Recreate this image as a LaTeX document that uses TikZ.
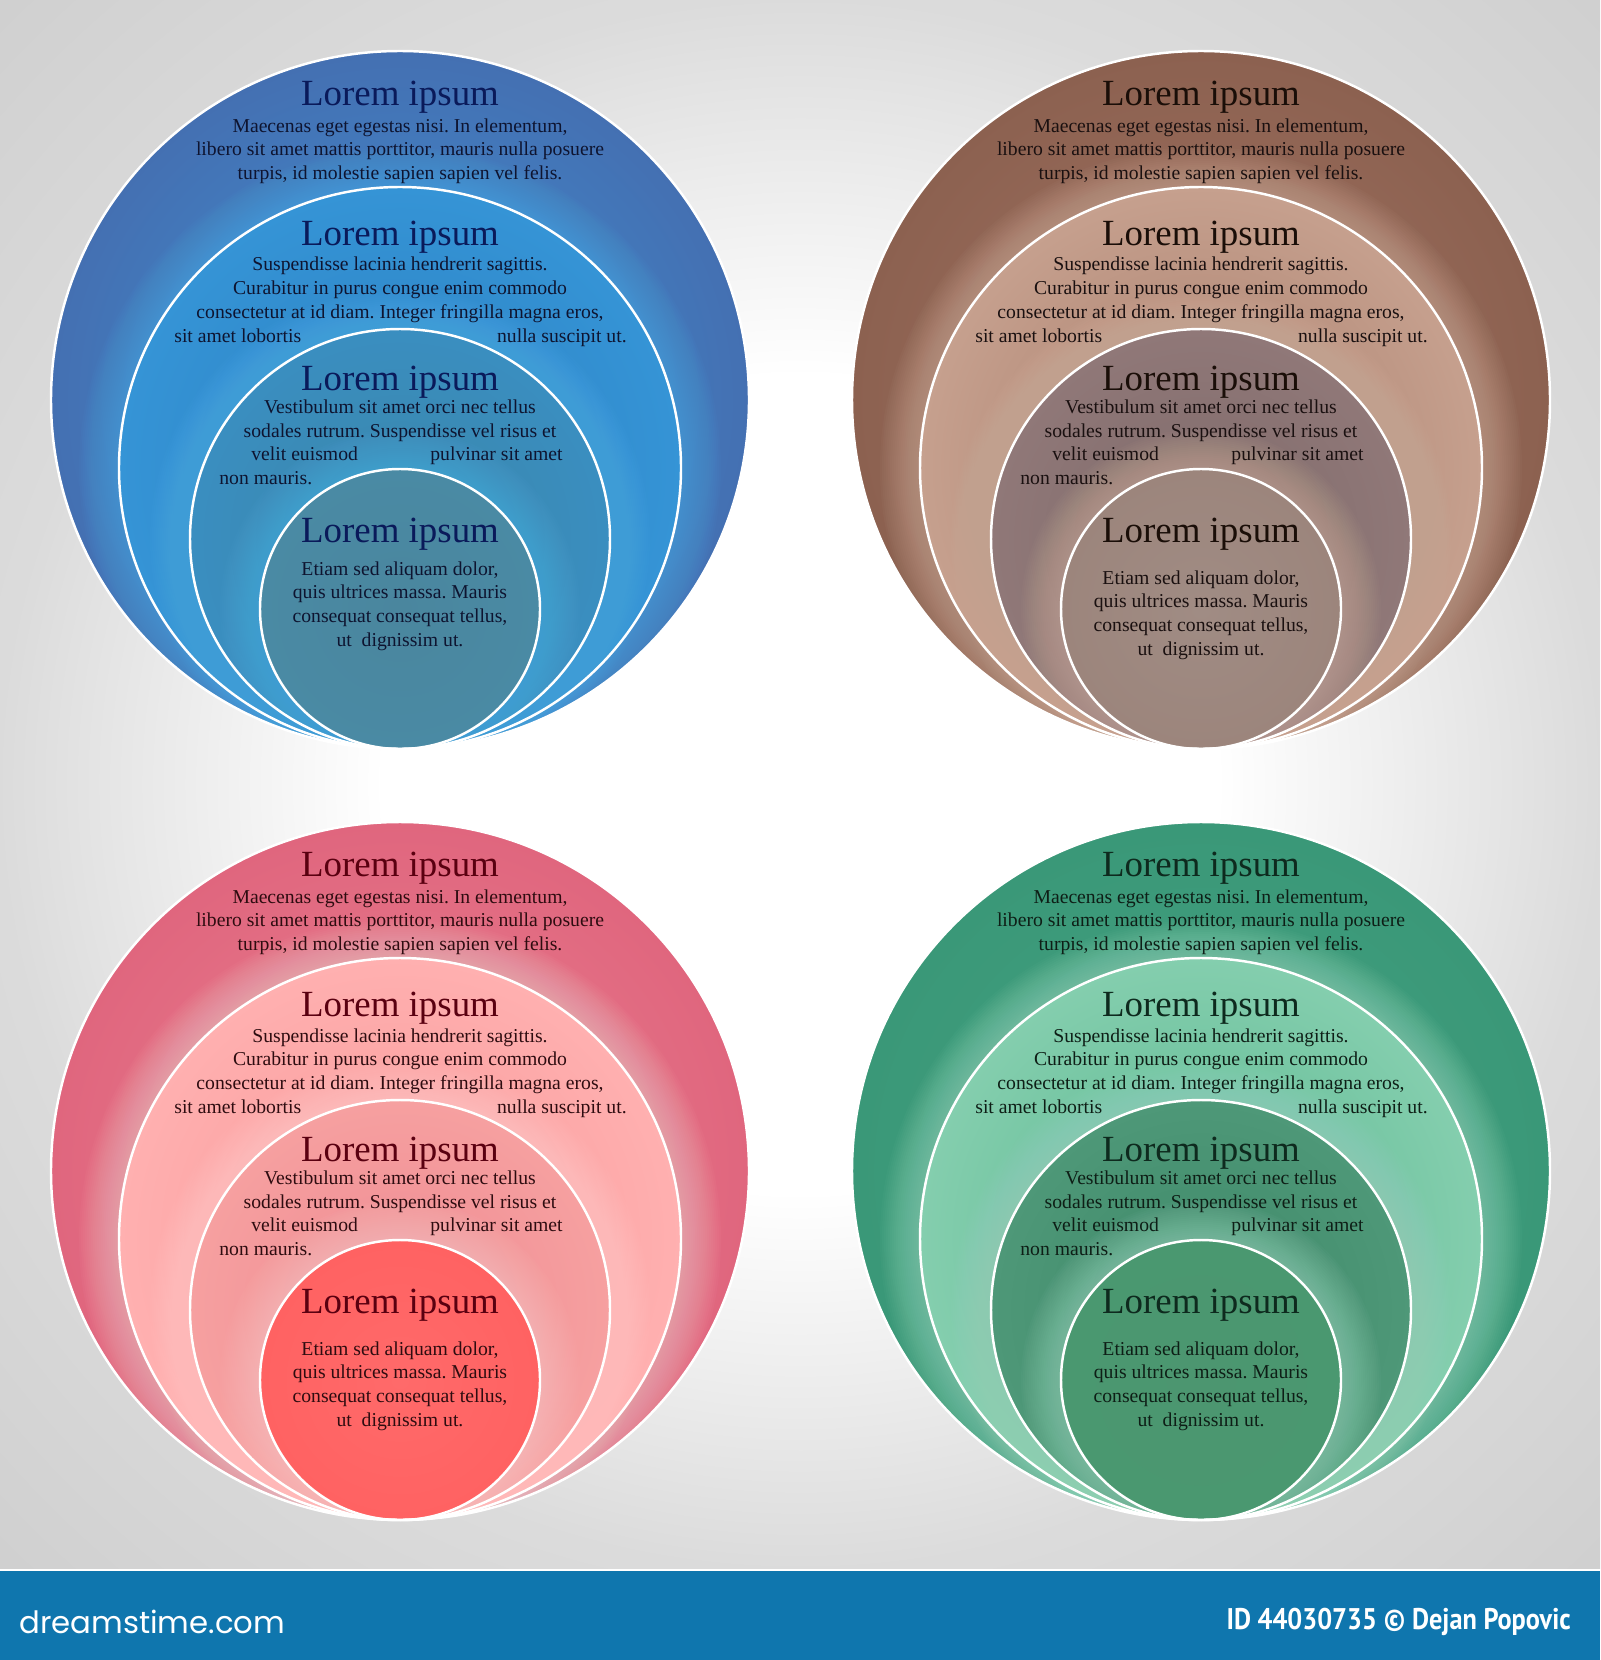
\documentclass[tikz,border=0pt]{standalone}
\usepackage{fontspec}
\setmainfont{Liberation Serif}
\newfontfamily\barfont{PT Sans}
\newfontfamily\logofont{Poppins}
\usepackage{tikz}
\usepackage{xcolor}
\usetikzlibrary{positioning}
\frenchspacing
\definecolor{barblue}{HTML}{0F76AE}
% blue set
\definecolor{blueAin}{HTML}{3F8FD2}
\definecolor{blueAout}{HTML}{4470B2}
\definecolor{blueBin}{HTML}{2C80C0}
\definecolor{blueBout}{HTML}{3594D6}
\definecolor{blueCin}{HTML}{3A86A8}
\definecolor{blueCout}{HTML}{3A8EC0}
\definecolor{blueDin}{HTML}{4A869E}
\definecolor{blueDout}{HTML}{4A8AA4}
\definecolor{blueglow}{HTML}{5AB8F2}
\definecolor{bluehead}{HTML}{0A1A5A}
\definecolor{bluetext}{HTML}{0E1430}
% brown set
\definecolor{brownAin}{HTML}{A07262}
\definecolor{brownAout}{HTML}{8C6150}
\definecolor{brownBin}{HTML}{A87E6C}
\definecolor{brownBout}{HTML}{C6A08E}
\definecolor{brownCin}{HTML}{7E6A6A}
\definecolor{brownCout}{HTML}{907878}
\definecolor{brownDin}{HTML}{A08C84}
\definecolor{brownDout}{HTML}{9C857C}
\definecolor{brownglow}{HTML}{DDBCAA}
\definecolor{brownhead}{HTML}{1A0E08}
\definecolor{browntext}{HTML}{1A1010}
% red set
\definecolor{redAin}{HTML}{E88090}
\definecolor{redAout}{HTML}{E0667E}
\definecolor{redBin}{HTML}{F89898}
\definecolor{redBout}{HTML}{FFB0B0}
\definecolor{redCin}{HTML}{EE8A92}
\definecolor{redCout}{HTML}{F6A0A0}
\definecolor{redDin}{HTML}{FF6A6A}
\definecolor{redDout}{HTML}{FF6262}
\definecolor{redglow}{HTML}{FFD4D4}
\definecolor{redhead}{HTML}{5A0010}
\definecolor{redtext}{HTML}{2E0C10}
% green set
\definecolor{greenAin}{HTML}{45A080}
\definecolor{greenAout}{HTML}{3A9878}
\definecolor{greenBin}{HTML}{5CB890}
\definecolor{greenBout}{HTML}{84CEAE}
\definecolor{greenCin}{HTML}{3E8868}
\definecolor{greenCout}{HTML}{4E9878}
\definecolor{greenDin}{HTML}{4C9670}
\definecolor{greenDout}{HTML}{4A9870}
\definecolor{greenglow}{HTML}{A8E4CC}
\definecolor{greenhead}{HTML}{0E2A1E}
\definecolor{greentext}{HTML}{0E1E16}

\pgfdeclareradialshading{paper}{\pgfpoint{0bp}{0bp}}{color(0bp)=(white); color(13bp)=(white);
  color(25bp)=(gray!28); color(50bp)=(gray!50)}

\tikzset{
  ring/.style={white, line width=1.4pt},
  title/.style={font=\fontsize{21}{24}\selectfont, inner sep=0pt},
  body/.style={font=\fontsize{11.2}{13.5}\selectfont, align=center, inner sep=0pt},
  side/.style={body, text height=1.55ex, text depth=0.3ex}
}

% #1,#2 centre of the big disc, #3 colour set, #4 name prefix, #5 offset of last text
\newcommand{\ringset}[5]{
  \begin{scope}
    \clip (#1,#2) circle (349);
    \foreach \r/\l in {349/A,281/B,210/C,140/D} {
      \ifnum\r<349
        \foreach \k in {1,...,20}
          \fill[#3glow, opacity=0.035] (#1,#2+349-\r) circle (\r+2*\k);
      \fi
      \shade[inner color=#3\l in, outer color=#3\l out] (#1,#2+349-\r) circle (\r);
    }
  \end{scope}
  \foreach \r in {349,281,210,140}
    \draw[ring] (#1,#2+349-\r) circle (\r);
  \node[title, text=#3head] (#4t1) at (#1,#2-303) {Lorem ipsum};
  \node[body, text=#3text] (#4b1) at (#1,#2-249) {Maecenas eget egestas nisi. In elementum,\\
    libero sit amet mattis porttitor, mauris nulla posuere\\ turpis, id molestie sapien sapien vel felis.};
  \node[title, text=#3head] (#4t2) at (#1,#2-163) {Lorem ipsum};
  \node[body, text=#3text] (#4b2) at (#1,#2-110) {Suspendisse lacinia hendrerit sagittis.\\
    Curabitur in purus congue enim commodo\\ consectetur at id diam. Integer fringilla magna eros,};
  \node[side, text=#3text, anchor=west] (#4b2l) at (#1-226,#2-63) {sit amet lobortis};
  \node[side, text=#3text, anchor=east] (#4b2r) at (#1+227,#2-63) {nulla suscipit ut.};
  \node[title, text=#3head] (#4t3) at (#1,#2-18) {Lorem ipsum};
  \node[body, text=#3text] (#4b3) at (#1,#2+21) {Vestibulum sit amet orci nec tellus\\
    sodales rutrum. Suspendisse vel risus et};
  \node[side, text=#3text, anchor=west] (#4b3l) at (#1-149,#2+55) {velit euismod};
  \node[side, text=#3text, anchor=east] (#4b3r) at (#1+163,#2+55) {pulvinar sit amet};
  \node[side, text=#3text, anchor=west] (#4b3n) at (#1-181,#2+79) {non mauris.};
  \node[title, text=#3head] (#4t4) at (#1,#2+134) {Lorem ipsum};
  \node[body, text=#3text] (#4b4) at (#1,#2+#5) {Etiam sed aliquam dolor,\\
    quis ultrices massa. Mauris\\ consequat consequat tellus,\\ ut\ \ dignissim ut.};
}

\begin{document}
\begin{tikzpicture}[x=0.02cm, y=-0.02cm]
\useasboundingbox (0,0) rectangle (1600,1660);
\fill[white] (0,0) rectangle (1600,1660);
\shade[shading=paper] (0,0) rectangle (1600,1568);

\ringset{400}{400}{blue}{tl}{206}
\ringset{1201}{400}{brown}{tr}{215}
\ringset{400}{1171}{red}{bl}{215}
\ringset{1201}{1171}{green}{br}{215}

\fill[barblue] (0,1571) rectangle (1600,1660);
\node[text=white, font=\logofont\fontsize{17.5}{20}\selectfont, anchor=west, inner sep=0pt]
  (logo) at (19,1622) {dreamstime.com};
\node[text=white, font=\barfont\bfseries\fontsize{17}{20}\selectfont, anchor=east, inner sep=0pt,
  transform shape, xscale=0.88] (credit) at (1571,1622) {ID 44030735 © Dejan Popovic};
\end{tikzpicture}
\end{document}
